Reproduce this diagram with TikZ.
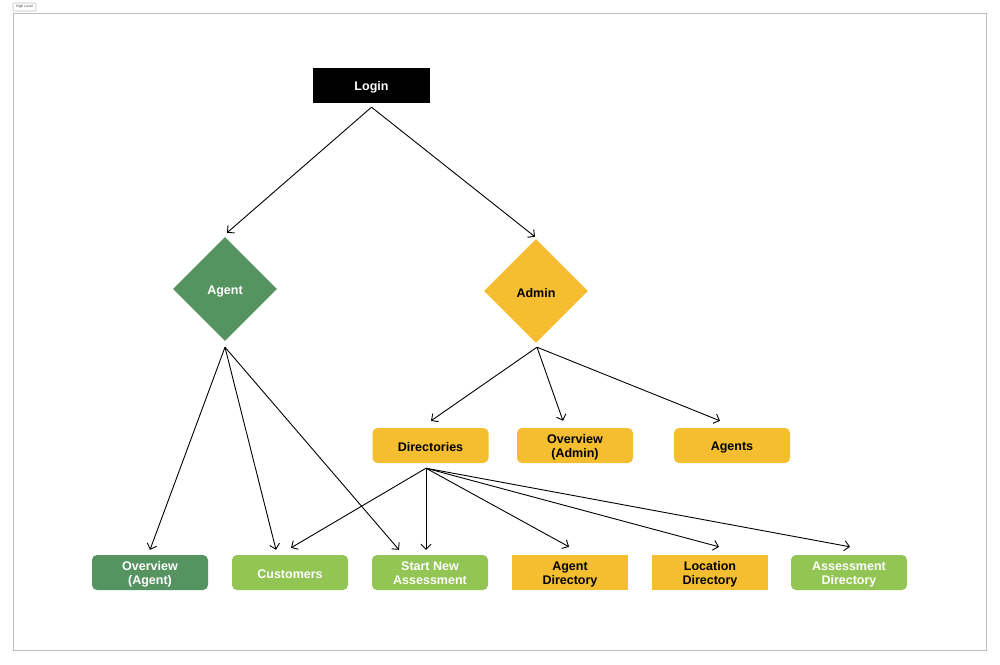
\documentclass[tikz,border=0pt]{standalone}
\usepackage{fontspec}
\setmainfont{Liberation Sans}
\usetikzlibrary{shapes.geometric,arrows.meta,calc}
\definecolor{dkgreen}{HTML}{559461}
\definecolor{ltgreen}{HTML}{93C555}
\definecolor{gold}{HTML}{F5BE30}
\definecolor{framegray}{HTML}{BDBDBD}
\newcommand{\twol}[2]{\rule{0pt}{20.5pt}\begin{tabular}{@{}c@{}}#1\\#2\end{tabular}}
\begin{document}
\begin{tikzpicture}[x=1pt,y=-1pt,
  lower/.style={execute at begin node={\rule{0pt}{13pt}}},
  box/.style={minimum width=116pt,minimum height=35pt,inner sep=0pt,lower,
    font=\fontsize{12.5}{14}\selectfont\bfseries},
  rbox/.style={box,rounded corners=5pt},
  dia/.style={diamond,minimum width=104pt,minimum height=104pt,inner sep=0pt,lower,
    font=\fontsize{12.5}{14}\selectfont\bfseries},
  conn/.style={line width=0.9pt,-{Straight Barb[length=5pt,width=10pt]}}]
\useasboundingbox (0,0) rectangle (1000,664);
% frame
\draw[framegray,line width=1pt] (13,13) rectangle (986,650);
\node[draw=framegray,line width=0.6pt,rounded corners=1pt,inner sep=1pt,minimum width=23pt,minimum height=8pt,
  font=\fontsize{3.5}{4}\selectfont,text=darkgray] (tab) at (24.5,7) {High Level};
% nodes
\node[box,fill=black,text=white,minimum width=117pt] (login) at (371.5,85.5) {Login};
\node[dia,fill=dkgreen,text=white] (agent) at (225,289) {Agent};
\node[dia,fill=gold,text=black] (admin) at (536,291) {Admin};
\node[rbox,fill=gold] (dirs) at (430.5,445.5) {Directories};
\node[rbox,fill=gold] (ovadmin) at (575,445.5) {\twol{Overview}{(Admin)}};
\node[rbox,fill=gold] (agents) at (732,445.5) {Agents};
\node[rbox,fill=dkgreen,text=white] (ovagent) at (150,572.5) {\twol{Overview}{(Agent)}};
\node[rbox,fill=ltgreen,text=white] (cust) at (290,572.5) {Customers};
\node[rbox,fill=ltgreen,text=white] (sna) at (430,572.5) {\twol{Start New}{Assessment}};
\node[box,fill=gold] (agdir) at (570,572.5) {\twol{Agent}{Directory}};
\node[box,fill=gold] (locdir) at (710,572.5) {\twol{Location}{Directory}};
\node[rbox,fill=ltgreen,text=white] (asdir) at (849,572.5) {\twol{Assessment}{Directory}};
% connector origins
\coordinate (loginout) at ($(login.south)+(0,4)$);
\coordinate (agentout) at ($(agent.south)+(0,6)$);
\coordinate (adminout) at ($(admin.south)+(1,4)$);
\coordinate (dirsout) at ($(dirs.south)+(-4.5,5)$);
% connectors
\draw[conn] (loginout) -- ($(agent.north)+(2,-4)$);
\draw[conn] (loginout) -- ($(admin.north)+(-1,-2)$);
\draw[conn] (agentout) -- ($(ovagent.north)+(0,-5)$);
\draw[conn] (agentout) -- ($(cust.north)+(-14,-5)$);
\draw[conn] (agentout) -- ($(sna.north)+(-31,-5)$);
\draw[conn] (adminout) -- ($(dirs.north)+(0.5,-7)$);
\draw[conn] (adminout) -- ($(ovadmin.north)+(-12,-7)$);
\draw[conn] (adminout) -- ($(agents.north)+(-12,-7)$);
\draw[conn] (dirsout) -- ($(cust.north)+(1,-7)$);
\draw[conn] (dirsout) -- ($(sna.north)+(-4,-5)$);
\draw[conn] (dirsout) -- ($(agdir.north)+(-1,-8)$);
\draw[conn] (dirsout) -- ($(locdir.north)+(9,-8)$);
\draw[conn] (dirsout) -- ($(asdir.north)+(1,-8)$);
\end{tikzpicture}
\end{document}
